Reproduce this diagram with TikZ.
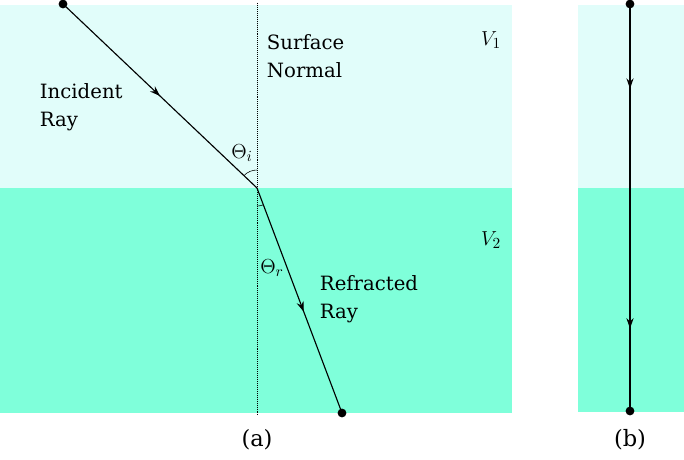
\documentclass[tikz,border=0pt]{standalone}
\usepackage{fontspec}
\setmainfont{DejaVu Serif}
\usepackage{tikz}
\usetikzlibrary{arrows.meta}
\usetikzlibrary{decorations.markings}
\definecolor{upper}{RGB}{225,253,250}
\definecolor{lower}{RGB}{127,255,218}
\tikzstyle{dot} = [circle, fill=black, inner sep=0pt, minimum size=0.22cm]
\tikzstyle{ray} = [thick, postaction={decorate}, decoration={markings, mark=at position #1 with {\arrow{Stealth[length=2.6mm,width=1.8mm,inset=0.9mm]}}}]
\tikzstyle{lbl} = [font=\fontsize{14}{20}\selectfont, align=left]
\tikzstyle{sym} = [font=\fontsize{15}{18}\selectfont]
\tikzstyle{normal} = [densely dotted, thin]

\begin{document}
\begin{tikzpicture}[x=0.025cm, y=0.025cm]
    \useasboundingbox (0,0) rectangle (684,460);
    % media of panel (a)
    \fill[upper] (0,272) rectangle (512,455);
    \fill[lower] (0,47) rectangle (512,272);
    % media of panel (b)
    \fill[upper] (578,272) rectangle (684,455);
    \fill[lower] (578,48) rectangle (684,272);

    \coordinate (ntop) at (257,457);
    \coordinate (nbot) at (257,45);
    \draw[normal] (ntop) -- (nbot);

    \node[dot] (src) at (63,456) {};
    \coordinate (hit) at (257,272);
    \node[dot] (dst) at (342,47) {};
    \draw[ray=0.5] (src.center) -- (hit);
    \draw[ray=0.55] (hit) -- (dst.center);

    % angles
    \draw[thin] ([shift={(90:18)}]hit) arc (90:136.5:18);
    \draw[thin] ([shift={(-90:18)}]hit) arc (-90:-69.3:18);
    \node[sym] (thi) at (242,307) {$\Theta_i$};
    \node[sym] (thr) at (272,192) {$\Theta_r$};

    \node[lbl, anchor=west] (inc) at (35,353) {Incident\\Ray};
    \node[lbl, anchor=west] (sn) at (262,404) {Surface\\Normal};
    \node[lbl, anchor=west] (refr) at (315,161) {Refracted\\Ray};
    \node[sym] (v1) at (491,420) {$V_1$};
    \node[sym] (v2) at (491,220) {$V_2$};

    % panel (b)
    \node[dot] (btop) at (630,456) {};
    \node[dot] (bbot) at (630,49) {};
    \coordinate (bmid) at (630,272);
    \draw[ray=0.46] (btop.center) -- (bmid);
    \draw[ray=0.63] (bmid) -- (bbot.center);

    \node[lbl, font=\fontsize{16}{20}\selectfont] (a) at (257,20) {(a)};
    \node[lbl, font=\fontsize{16}{20}\selectfont] (b) at (630,20) {(b)};
\end{tikzpicture}
\end{document}
